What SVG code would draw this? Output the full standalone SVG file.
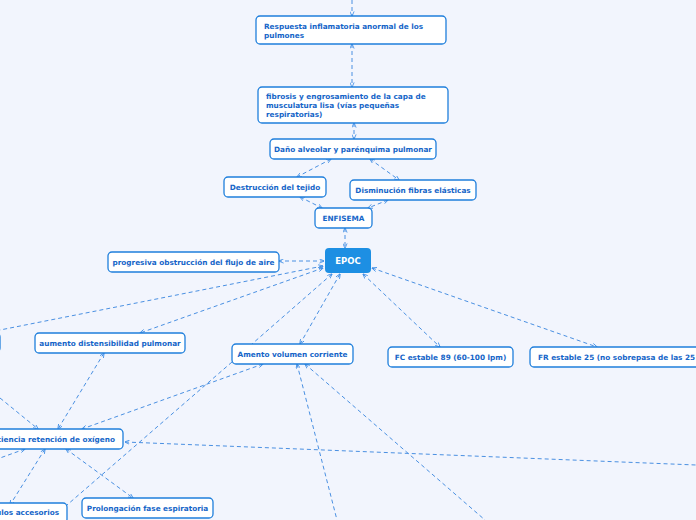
<svg xmlns="http://www.w3.org/2000/svg" width="696" height="520" viewBox="0 0 696 520">
<defs>
<marker id="a" viewBox="0 0 6 6" refX="5.5" refY="3" markerWidth="5" markerHeight="5" orient="auto-start-reverse" markerUnits="userSpaceOnUse"><path d="M0,0.5 L6,3 L0,5.5" fill="none" stroke="#3d8ee6" stroke-width="1"/></marker>
</defs>
<style>
.n rect{fill:#fff;stroke:#1f7fdc;stroke-width:1.3}
.n text{font-family:"DejaVu Sans",sans-serif;font-weight:bold;font-size:7.3px;fill:#1565c8}
.c line{stroke:#4a90e2;stroke-width:1;stroke-dasharray:4 3;marker-start:url(#a);marker-end:url(#a)}
</style>
<rect width="696" height="520" fill="#f2f5fd"/>
<g class="c">
<line x1="352" y1="0" x2="352" y2="16" style="marker-start:none"/>
<line x1="352" y1="44" x2="352" y2="87"/>
<line x1="354" y1="123" x2="354" y2="139"/>
<line x1="331" y1="159" x2="297" y2="177"/>
<line x1="370" y1="159" x2="399" y2="180"/>
<line x1="300" y1="197" x2="322" y2="208"/>
<line x1="388" y1="200" x2="368" y2="208"/>
<line x1="345" y1="228" x2="345" y2="248"/>
<line x1="324" y1="261" x2="279" y2="261"/>
<line x1="323" y1="266" x2="0" y2="330" style="marker-end:none"/>
<line x1="323" y1="268" x2="140" y2="333"/>
<line x1="332" y1="274" x2="252" y2="344" style="marker-end:none"/>
<line x1="340" y1="274" x2="300" y2="344"/>
<line x1="363" y1="274" x2="440" y2="347"/>
<line x1="372" y1="268" x2="597" y2="347"/>
<line x1="104" y1="353" x2="58" y2="429"/>
<line x1="263" y1="364" x2="82" y2="429"/>
<line x1="0" y1="398" x2="38" y2="429" style="marker-start:none"/>
<line x1="232" y1="362" x2="67" y2="505" style="marker-start:none;marker-end:none"/>
<line x1="125" y1="442" x2="696" y2="465" style="marker-end:none"/>
<line x1="45" y1="449" x2="10" y2="505"/>
<line x1="25" y1="449" x2="0" y2="458" style="marker-end:none"/>
<line x1="66" y1="449" x2="133" y2="498"/>
<line x1="297" y1="364" x2="337" y2="520" style="marker-end:none"/>
<line x1="305" y1="364" x2="485" y2="520" style="marker-end:none"/>
</g>
<g id="respuesta" class="n"><rect x="256" y="16" width="190" height="28" rx="4"/><text x="264" y="29">Respuesta inflamatoria anormal de los</text><text x="264" y="38">pulmones</text></g>
<g id="fibrosis" class="n"><rect x="258" y="87" width="190" height="36" rx="4"/><text x="266" y="99">fibrosis y engrosamiento de la capa de</text><text x="266" y="108">musculatura lisa (vías pequeñas</text><text x="266" y="117">respiratorias)</text></g>
<g id="dano" class="n"><rect x="270" y="139" width="166" height="20" rx="4"/><text x="353" y="152" text-anchor="middle">Daño alveolar y parénquima pulmonar</text></g>
<g id="destruccion" class="n"><rect x="224" y="177" width="102" height="20" rx="4"/><text x="275" y="190" text-anchor="middle">Destrucción del tejido</text></g>
<g id="disminucion" class="n"><rect x="350" y="180" width="126" height="20" rx="4"/><text x="413" y="193" text-anchor="middle">Disminución fibras elásticas</text></g>
<g id="enfisema" class="n"><rect x="315" y="208" width="57" height="20" rx="4"/><text x="343.5" y="221" text-anchor="middle">ENFISEMA</text></g>
<g id="epoc"><rect x="325" y="248" width="46" height="25" rx="4" fill="#1d8fe3"/><text x="348" y="264" text-anchor="middle" font-family="DejaVu Sans,sans-serif" font-weight="bold" font-size="8.5" fill="#fff">EPOC</text></g>
<g id="progresiva" class="n"><rect x="108" y="252" width="171" height="20" rx="4"/><text x="193.5" y="265" text-anchor="middle">progresiva obstrucción del flujo de aire</text></g>
<g id="izq" class="n"><rect x="-20" y="333" width="20" height="19" rx="4"/></g>
<g id="aumento" class="n"><rect x="35" y="333" width="150" height="20" rx="4"/><text x="110" y="346" text-anchor="middle">aumento distensibilidad pulmonar</text></g>
<g id="amento" class="n"><rect x="232" y="344" width="121" height="20" rx="4"/><text x="292.5" y="357" text-anchor="middle">Amento volumen corriente</text></g>
<g id="fc" class="n"><rect x="388" y="347" width="125" height="20" rx="4"/><text x="450.5" y="360" text-anchor="middle">FC estable 89 (60-100 lpm)</text></g>
<g id="fr" class="n"><rect x="530" y="347" width="190" height="20" rx="4"/><text x="538" y="360">FR estable 25 (no sobrepasa de las 25 rpm)</text></g>
<g id="deficiencia" class="n"><rect x="-30" y="429" width="153" height="20" rx="4"/><text x="115" y="442" text-anchor="end">Deficiencia retención de oxígeno</text></g>
<g id="musculos" class="n"><rect x="-40" y="503" width="107" height="20" rx="4"/><text x="59" y="515" text-anchor="end">Músculos accesorios</text></g>
<g id="prolongacion" class="n"><rect x="82" y="498" width="131" height="20" rx="4"/><text x="147.5" y="511" text-anchor="middle">Prolongación fase espiratoria</text></g>
</svg>
